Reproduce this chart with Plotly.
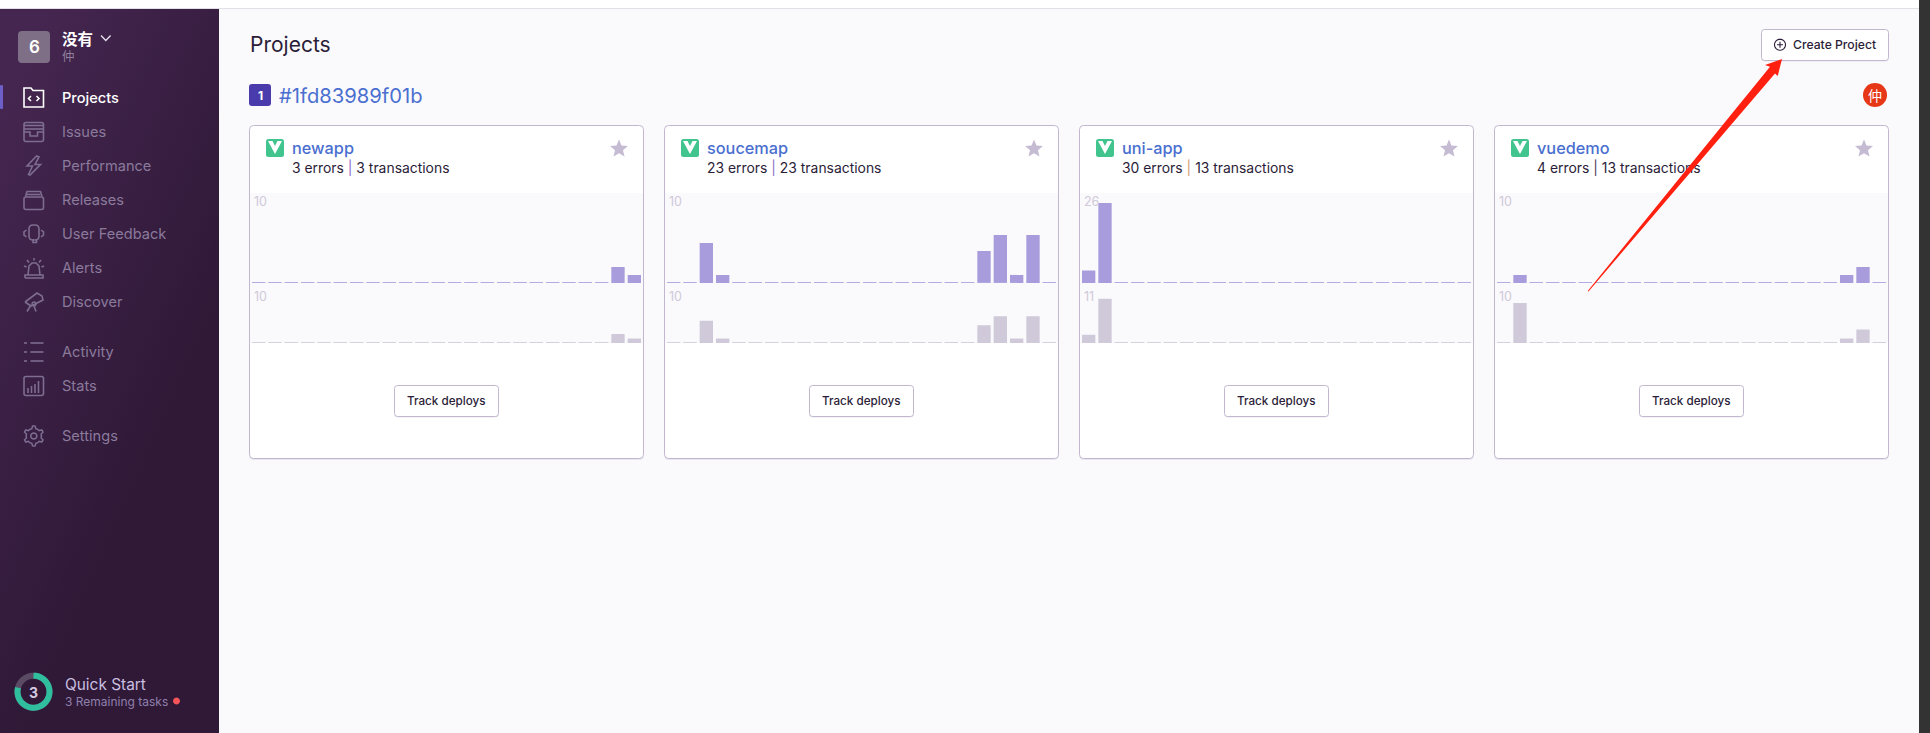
#!/usr/bin/env python3
"""Sentry 'Projects' page: four project cards with error / transaction bars."""
import math, base64
import plotly.graph_objects as go

W, H = 1930, 733
FONT = "Inter, 'Noto Sans CJK SC', sans-serif"
CJK = "'Noto Sans CJK SC', sans-serif"
DARK, BLUE, BORDER = "#2b1d38", "#4a6fd0", "#c1b8cf"
BAR_TOP, BAR_LOW = "#a89cdc", "#cfc9d9"
PAGE_BG = "#fafafc"

# ---------- data ----------
project_names = ["newapp", "soucemap", "uni-app", "vuedemo"]
error_labels = ["3 errors", "23 errors", "30 errors", "4 errors"]
transaction_labels = ["3 transactions", "23 transactions", "13 transactions", "13 transactions"]
separator_colors = ["#8a6fc9", "#8a6fc9", "#d09a70", "#4a3b5c"]
error_max = [10, 10, 26, 10]
transaction_max = [10, 10, 11, 10]

newapp_errors = [0] * 22 + [2, 1]
soucemap_errors = [0, 0, 5, 1, 0, 0, 0, 0, 0, 0, 0, 0, 0, 0, 0, 0, 0, 0, 0, 4, 6, 1, 6, 0]
uniapp_errors = [4, 26] + [0] * 22
vuedemo_errors = [0, 1, 0, 0, 0, 0, 0, 0, 0, 0, 0, 0, 0, 0, 0, 0, 0, 0, 0, 0, 0, 1, 2, 0]

newapp_transactions = [0] * 22 + [2, 1]
soucemap_transactions = [0, 0, 5, 1, 0, 0, 0, 0, 0, 0, 0, 0, 0, 0, 0, 0, 0, 0, 0, 4, 6, 1, 6, 0]
uniapp_transactions = [2, 11] + [0] * 22
vuedemo_transactions = [0, 9, 0, 0, 0, 0, 0, 0, 0, 0, 0, 0, 0, 0, 0, 0, 0, 0, 0, 0, 0, 1, 3, 0]

errors = [newapp_errors, soucemap_errors, uniapp_errors, vuedemo_errors]
transactions = [newapp_transactions, soucemap_transactions, uniapp_transactions, vuedemo_transactions]

nav_labels = ["Projects", "Issues", "Performance", "Releases", "User Feedback", "Alerts", "Discover",
              "Activity", "Stats", "Settings"]
nav_y = [98, 132, 166, 200, 234, 268, 302, 352, 386, 436]

# ---------- helpers (everything decorative is in page pixels on the xy axes) ----------
shapes, notes = [], []

def add_path(d, fill=None, line=None, width=0, layer="below"):
    shapes.append(dict(type="path", path=d, xref="x", yref="y", layer=layer,
                       fillcolor=fill or "rgba(0,0,0,0)",
                       line=dict(color=line or "rgba(0,0,0,0)", width=width)))

def rrect(x0, y0, x1, y1, r):
    return (f"M{x0+r},{y0} L{x1-r},{y0} Q{x1},{y0} {x1},{y0+r} L{x1},{y1-r} Q{x1},{y1} {x1-r},{y1} "
            f"L{x0+r},{y1} Q{x0},{y1} {x0},{y1-r} L{x0},{y0+r} Q{x0},{y0} {x0+r},{y0} Z")

def poly(pts, close=False):
    return "M" + " L".join(f"{round(x,2)},{round(y,2)}" for x, y in pts) + (" Z" if close else "")

def arc(cx, cy, r, a0=0, a1=360, n=48):
    # angles clockwise from 12 o'clock
    return [(cx + r * math.sin(math.radians(a0 + (a1 - a0) * i / n)),
             cy - r * math.cos(math.radians(a0 + (a1 - a0) * i / n))) for i in range(n + 1)]

def text(x, y, s, size=14, color=DARK, anchor="left", weight=400, family=FONT):
    notes.append(dict(x=x, y=y, xref="x", yref="y", text=s, showarrow=False, xanchor=anchor, yanchor="middle",
                      font=dict(size=size, color=color, family=family, weight=weight), borderpad=0, borderwidth=0))

def icon(lines, y, color, ox=24, closed=()):
    for i, pts in enumerate(lines):
        add_path(poly([(ox + a, y - 10 + b) for a, b in pts], i in closed), line=color, width=1.6)

# ---------- page frame ----------
shapes.append(dict(type="rect", xref="x", yref="y", x0=0, x1=W, y0=0, y1=8, fillcolor="white", line_width=0, layer="below"))
shapes.append(dict(type="rect", xref="x", yref="y", x0=0, x1=1919, y0=8, y1=9, fillcolor="#e2e0e6", line_width=0, layer="below"))
shapes.append(dict(type="rect", xref="x", yref="y", x0=1919, x1=W, y0=0, y1=H, fillcolor="#333333", line_width=0, layer="below"))

svg = ('<svg xmlns="http://www.w3.org/2000/svg" width="219" height="724"><defs>'
       '<linearGradient id="g" gradientUnits="userSpaceOnUse" x1="336" y1="464" x2="-117" y2="260">'
       '<stop offset="0.3557" stop-color="#2f1937"/><stop offset="0.9242" stop-color="#452650"/>'
       '</linearGradient></defs><rect width="219" height="724" fill="url(#g)"/></svg>')
sidebar_img = dict(source="data:image/svg+xml;base64," + base64.b64encode(svg.encode()).decode(),
                   xref="paper", yref="paper", x=0, y=1 - 9 / H, sizex=219 / W, sizey=724 / H,
                   xanchor="left", yanchor="top", sizing="stretch", layer="below")

# ---------- sidebar ----------
add_path(rrect(18, 31, 50, 63, 4), fill="#7e6f86")
text(34, 47, "6", 17, "white", "center", 600)
text(62, 37.5, "没有", 15.5, "white", weight=700, family=CJK)
add_path(poly([(101, 35.5), (105.8, 40.5), (110.6, 35.5)]), line="#e8e2ee", width=1.3)
text(62, 55.5, "仲", 12.5, "#8f7f9c", family=CJK)
add_path(rrect(0, 85, 3, 109, 1), fill="#6c5fc7")

for label, y in zip(nav_labels, nav_y):
    text(62, y, label, 14.6, "white" if label == "Projects" else "#8a7a9c", weight=500 if label == "Projects" else 400)

NAV = "#7d6d90"
icon([[(0, 0), (7, 0), (9, 2.5), (19.5, 2.5), (19.5, 19), (0, 19)],
      [(7, 8), (4.5, 10.5), (7, 13)], [(12.5, 8), (15, 10.5), (12.5, 13)]], 98, "white", closed=(0,))
add_path(rrect(24, 122.5, 43.5, 141.5, 2), line=NAV, width=1.6)
icon([[(0, 3.5), (19.5, 3.5)], [(0, 7), (19.5, 7)], [(0, 10), (6, 10), (6, 14), (13.5, 14), (13.5, 10), (19.5, 10)]], 132, NAV)
icon([[(12.5, 0), (3, 10), (8.5, 10), (4.5, 18.5), (6, 19), (16.5, 8.5), (11, 8.5), (15, 1)]], 166, NAV, closed=(0,))
add_path(rrect(24, 197, 43.5, 209.5, 2), line=NAV, width=1.6)
icon([[(1.5, 6.5), (3, 1.5), (16.5, 1.5), (18, 6.5)], [(3, 4.5), (16.5, 4.5)]], 200, NAV)
add_path(rrect(29, 225, 39, 240, 4), line=NAV, width=1.6)
icon([[(2.5, 6), (0, 8), (0, 11), (2.5, 13)], [(17, 6), (19.5, 8), (19.5, 11), (17, 13)],
      [(9, 15), (9, 18.5), (12.5, 18.5), (12.5, 15)]], 234, NAV)
icon([[(4, 17), (5, 8), (8, 5), (12, 5), (15, 8), (16, 17)], [(1, 20), (1, 17), (19, 17), (19, 20), (1, 20)],
      [(10, 0), (10, 2.5)], [(3, 2), (5, 4.5)], [(17, 2), (15, 4.5)], [(0, 8), (2.5, 9)], [(20, 8), (17.5, 9)]], 268, NAV)
add_path(poly(arc(34, 304, 2, 0, 360, 16), True), line=NAV, width=1.4)
icon([[(1, 10), (13, 1), (18, 4), (19, 8), (7, 14), (1, 10)], [(7, 13), (3, 19.5)], [(10, 14), (12, 19.5)]], 302, NAV)
icon([[(0, 1), (3, 1)], [(6.5, 1), (19.5, 1)], [(0, 10), (3, 10)], [(6.5, 10), (19.5, 10)], [(0, 19), (3, 19)], [(6.5, 19), (19.5, 19)]], 352, NAV)
add_path(rrect(24, 376.5, 43.5, 395.5, 2), line=NAV, width=1.6)
icon([[(4, 17), (4, 12)], [(7.5, 17), (7.5, 10)], [(11, 17), (11, 8)], [(14.5, 17), (14.5, 5)]], 386, NAV)
gear = []
for i in range(48):
    r = 10 if (i % 8) in (0, 1, 2) else 7.6
    gear.append((33.8 + r * math.sin(math.radians(i * 7.5 - 7.5)), 436 - r * math.cos(math.radians(i * 7.5 - 7.5))))
add_path(poly(gear, True), line=NAV, width=1.5)
add_path(poly(arc(33.8, 436, 3, 0, 360, 20), True), line=NAV, width=1.5)

add_path(poly(arc(33.5, 691.7, 16), True), line="#5b4a63", width=6)
add_path(poly(arc(33.5, 691.7, 16, 0, 285)), line="#2fbf9f", width=6)
text(33.5, 692, "3", 14, "#d5cbe0", "center", 700)
text(65, 684, "Quick Start", 15.4, "#c9bfe0")
text(65, 701.5, "3 Remaining tasks", 12, "#8f80ad")
add_path(poly(arc(176.5, 701, 3.5, 0, 360, 20), True), fill="#f55459")

# ---------- header ----------
text(249.5, 44, "Projects", 21, DARK)
add_path(rrect(249, 84, 271, 106, 3), fill="#4a3bac")
text(260, 95.3, "1", 12, "white", "center", 700)
text(279, 95, "#1fd83989f01b", 20.2, BLUE)

add_path(rrect(1761.5, 30.5, 1888.5, 61.5, 3), fill="#e6e3ec")
add_path(rrect(1761.5, 29.5, 1888.5, 60.5, 3), fill="white", line=BORDER, width=1)
add_path(poly(arc(1780, 44.7, 5.5, 0, 360, 24), True), line=DARK, width=1.1)
add_path("M1777,44.7 L1783,44.7 M1780,41.7 L1780,47.7", line=DARK, width=1.1)
text(1792.5, 44.6, "Create Project", 12.2, DARK, weight=500)

add_path(poly(arc(1875, 95, 12, 0, 360, 40), True), fill="#e63717")
text(1875, 95, "仲", 14, "white", "center", family=CJK)

# ---------- cards ----------
CARD_X = [249.5, 664.5, 1079.5, 1494.5]
CARD_W, CARD_TOP, CARD_BOTTOM = 394, 125.5, 458.5
fig = go.Figure()
sub_x, sub_text = [], []

for i, cx in enumerate(CARD_X):
    add_path(rrect(cx, CARD_TOP + 1.5, cx + CARD_W, CARD_BOTTOM + 1.5, 4), fill="#e8e6ee")
    add_path(rrect(cx, CARD_TOP, cx + CARD_W, CARD_BOTTOM, 4), fill="white", line=BORDER, width=1)
    shapes.append(dict(type="rect", xref="x", yref="y", x0=cx + 0.5, x1=cx + CARD_W - 0.5, y0=193, y1=343,
                       fillcolor=PAGE_BG, line_width=0, layer="below"))
    add_path(rrect(cx + 16.5, 139, cx + 34.5, 157, 2.5), fill="#41c48e")
    add_path(poly([(cx + 18.5, 141), (cx + 23, 141), (cx + 25.5, 146), (cx + 28, 141), (cx + 32.5, 141), (cx + 25.5, 154)], True), fill="white")
    text(cx + 42.7, 147.7, project_names[i], 16.3, BLUE, weight=500)
    sub_x.append(cx + 42.5)
    sub_text.append(f"{error_labels[i]} <span style='color:{separator_colors[i]}'>|</span> {transaction_labels[i]}")
    star = []
    for k in range(10):
        r = 9.4 if k % 2 == 0 else 4.2
        star.append((cx + 369.5 + r * math.sin(math.radians(k * 36)), 149 - r * math.cos(math.radians(k * 36))))
    add_path(poly(star, True), fill="#c5bcd3")
    text(cx + 4, 201.7, str(error_max[i]), 12.5, "#d0c8da")
    text(cx + 4, 296.7, str(transaction_max[i]), 12.5, "#d0c8da")
    add_path(rrect(cx + 145, 386.5, cx + 249, 417.5, 3), fill="#ebe9f0")
    add_path(rrect(cx + 145, 385.5, cx + 249, 416.5, 3), fill="white", line=BORDER, width=1)
    text(cx + 197, 400.5, "Track deploys", 11.7, DARK, "center", 500)

# page-pixel axes plus the subtitle text; trace text stays under the arrow
fig.add_trace(go.Scatter(x=sub_x, y=[169.3] * 4, mode="text", text=sub_text, textposition="middle right",
                         textfont=dict(size=13.9, color=DARK, family=FONT), hoverinfo="skip", showlegend=False))
axes = dict(xaxis=dict(domain=[0, 1], range=[0, W], visible=False, fixedrange=True),
            yaxis=dict(domain=[0, 1], range=[H, 0], visible=False, fixedrange=True))

# two bar charts per card, placed by page pixels
hours = list(range(24))
n = 2
for i, cx in enumerate(CARD_X):
    x0, x1 = cx + 1, cx + 393
    for values, ymax, top, bottom, color in ((errors[i], error_max[i], 203, 282.9, BAR_TOP),
                                             (transactions[i], transaction_max[i], 298.5, 342.9, BAR_LOW)):
        fig.add_trace(go.Bar(x=hours, y=values, xaxis=f"x{n}", yaxis=f"y{n}", width=0.816,
                             marker=dict(color=color, line=dict(color=color, width=[1 if v == 0 else 0 for v in values])),
                             hovertemplate="%{y}<extra></extra>", showlegend=False))
        axes[f"xaxis{n}"] = dict(domain=[x0 / W, x1 / W], range=[-0.5, 23.5], visible=False, fixedrange=True, anchor=f"y{n}")
        axes[f"yaxis{n}"] = dict(domain=[1 - bottom / H, 1 - top / H], range=[0, ymax], visible=False, fixedrange=True, anchor=f"x{n}")
        n += 1

# red arrow drawn by hand on the screenshot, it covers part of the vuedemo subtitle
add_path(poly([(1587.7, 291), (1770, 66.7), (1765, 65), (1782, 59), (1777.7, 76), (1775, 73.5), (1588.5, 291.5)], True),
         fill="#ff2010", layer="above")

fig.update_layout(width=W, height=H, margin=dict(l=0, r=0, t=0, b=0, pad=0), autosize=False,
                  paper_bgcolor=PAGE_BG, plot_bgcolor="rgba(0,0,0,0)", bargap=0.18, barmode="overlay",
                  font=dict(family=FONT), images=[sidebar_img], annotations=notes, shapes=shapes,
                  hovermode="closest", **axes)
fig.write_html("out.html", config={"displayModeBar": False},
               post_script="document.body.style.margin='0';document.documentElement.style.overflow='hidden';")
